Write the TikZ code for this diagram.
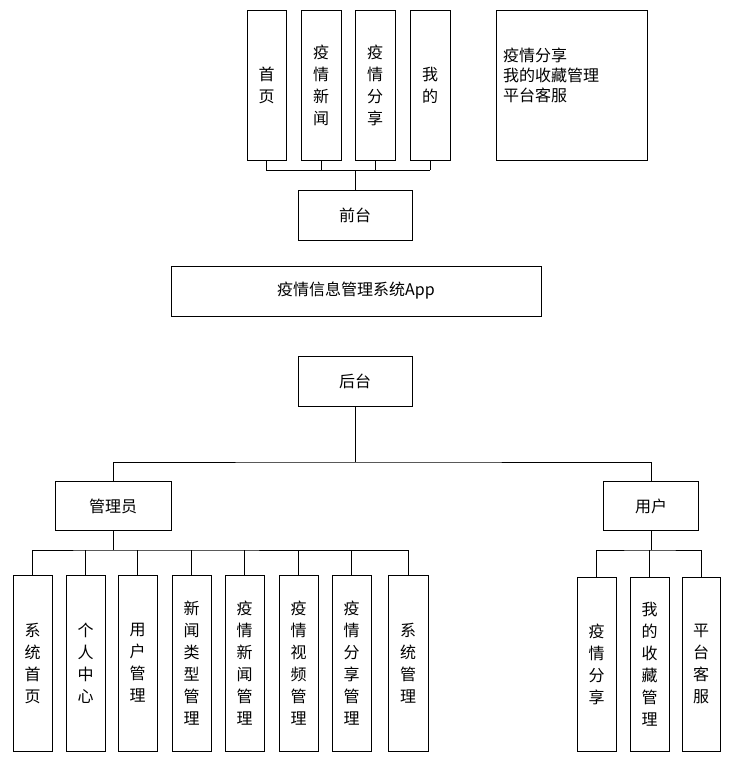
\documentclass[tikz,border=0pt]{standalone}
\usepackage{fontspec}
\setmainfont{Noto Sans CJK SC}
\begin{document}
\begin{tikzpicture}[x=1pt,y=-1pt,
  bx/.style={draw,line width=0.8pt,font=\fontsize{16}{22}\selectfont,align=center,inner sep=0pt},
  ln/.style={line width=0.8pt}]
\useasboundingbox (0,0) rectangle (733,761);
\newcommand{\vbx}[6]{\node[bx,minimum width=#3-#2,minimum height=#5-#4,text width=18pt] (#1) at ({(#2+#3)/2},{(#4+#5)/2}) {#6};}
\vbx{t1}{247}{286}{10}{160}{首\\页}
\vbx{t2}{301}{341}{10}{160}{疫\\情\\新\\闻}
\vbx{t3}{355}{395}{10}{160}{疫\\情\\分\\享}
\vbx{t4}{410}{450}{10}{160}{我\\的}
\node[bx,minimum width=151,minimum height=150,anchor=north west] (tr) at (496,10) {};
\node[font=\fontsize{16}{20}\selectfont,align=left,anchor=north west,inner sep=0pt] (trt) at (503,48) {疫情分享\\我的收藏管理\\平台客服};
\node[bx,minimum width=114,minimum height=50] (qt) at (355,215) {前台};
\node[bx,minimum width=370,minimum height=50] (app) at (356,291) {疫情信息管理系统App};
\node[bx,minimum width=114,minimum height=50] (ht) at (355,381) {后台};
\node[bx,minimum width=116,minimum height=49] (gl) at (113,506) {管理员};
\node[bx,minimum width=95,minimum height=49] (yh) at (651,506) {用户};
\vbx{a1}{13}{52}{575}{751}{系\\统\\首\\页}
\vbx{a2}{66}{105}{575}{751}{个\\人\\中\\心}
\vbx{a3}{118}{157}{575}{751}{用\\户\\管\\理}
\vbx{a4}{172}{211}{575}{751}{新\\闻\\类\\型\\管\\理}
\vbx{a5}{225}{264}{575}{751}{疫\\情\\新\\闻\\管\\理}
\vbx{a6}{279}{318}{575}{751}{疫\\情\\视\\频\\管\\理}
\vbx{a7}{332}{371}{575}{751}{疫\\情\\分\\享\\管\\理}
\vbx{a8}{388}{428}{575}{751}{系\\统\\管\\理}
\vbx{b1}{577}{616}{577}{751}{疫\\情\\分\\享}
\vbx{b2}{630}{669}{577}{751}{我\\的\\收\\藏\\管\\理}
\vbx{b3}{682}{720}{577}{751}{平\\台\\客\\服}
\coordinate (tb1) at (266,170); \coordinate (tb2) at (430,170);
\draw[ln] (tb1) -- (tb2);
\foreach \n in {t1,t2,t3,t4} \draw[ln] (\n.south) -- (\n.south |- tb1);
\draw[ln] (qt.north) -- (qt.north |- tb1);
\coordinate (hb) at (355,462);
\draw[ln] (ht.south) -- (hb);
\draw[ln] (gl.north) |- (hb) -| (yh.north);
\coordinate (gb) at (113,550);
\draw[ln] (gl.south) -- (gb);
\draw[ln] (a1.north) |- (gb) -| (a8.north);
\foreach \n in {a2,a3,a4,a5,a6,a7} \draw[ln] (\n.north) -- (\n.north |- gb);
\coordinate (ub) at (651,550);
\draw[ln] (yh.south) -- (ub);
\draw[ln] (b1.north) |- (ub) -| (b3.north);
\draw[ln] (b2.north) -- (b2.north |- ub);
\end{tikzpicture}
\end{document}
